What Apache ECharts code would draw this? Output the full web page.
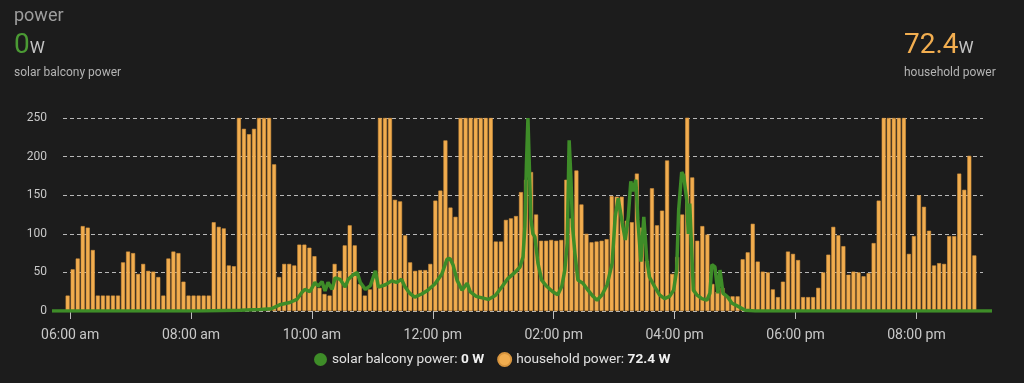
<!DOCTYPE html>
<html>
<head>
<meta charset="utf-8">
<script src="https://cdn.jsdelivr.net/npm/echarts@6/dist/echarts.min.js"></script>
<style>
  html, body { margin:0; padding:0; background:#1c1c1c; }
  #wrap { position:relative; width:1024px; height:383px; background:#1c1c1c; overflow:hidden; font-family:Roboto, sans-serif; }
  #chart { position:absolute; left:0; top:0; width:1024px; height:383px; }
  .hd { position:absolute; line-height:normal; white-space:nowrap; }
</style>
</head>
<body>
<div id="wrap">
  <div id="chart"></div>
  <div class="hd" style="left:14px;top:4px;font-size:18px;color:#9e9e9e;">power</div>
  <div class="hd" style="left:14px;top:27px;"><span style="font-size:28px;color:#4b9a34;">0</span><span style="font-size:17px;color:#c4c4c4;">W</span></div>
  <div class="hd" style="left:14px;top:65px;font-size:12px;color:#b4b4b4;">solar balcony power</div>
  <div class="hd" style="left:904px;top:27px;"><span style="font-size:28px;color:#f2ae50;">72.4</span><span style="font-size:17px;color:#c4c4c4;">W</span></div>
  <div class="hd" style="left:904px;top:65px;font-size:12px;color:#b4b4b4;">household power</div>
</div>
<script>
// ---- data ----
const axisStart = '05:42';
const axisEnd = '21:15';
const tickTimes = ['06:00', '08:00', '10:00', '12:00', '14:00', '16:00', '18:00', '20:00'];
const tickLabels = ['06:00 am', '08:00 am', '10:00 am', '12:00 pm', '02:00 pm', '04:00 pm', '06:00 pm', '08:00 pm'];
const yTicks = [0, 50, 100, 150, 200, 250];

const solarName = 'solar balcony power';
const solarCurrent = '0 W';
const householdName = 'household power';
const householdCurrent = '72.4 W';

// household power: 5-minute statistics, first interval starts at 05:55
const householdStart = '05:55';
const householdStepMin = 5;
const householdValues = [
  20,54,68,110,108,79,20,20,20,20,
  20,63,77,75,48,61,52,51,44,20,
  68,77,75,38,20,20,20,20,20,115,
  109,107,59,58,250,236,229,236,250,250,
  250,190,44,61,61,59,86,86,82,71,
  30,22,20,61,52,85,111,85,35,20,
  28,46,250,250,250,144,142,98,63,52,
  53,53,61,143,156,221,134,122,250,250,
  250,250,250,250,250,90,90,118,120,123,
  154,170,180,125,91,91,92,91,92,170,
  120,182,138,100,89,90,91,93,149,148,
  148,117,115,178,108,65,159,111,130,195,
  48,70,125,252,173,91,110,99,35,25,
  30,19,19,19,67,76,113,64,51,50,
  28,18,38,77,74,66,18,18,18,30,
  50,73,109,98,84,47,51,50,45,49,
  88,143,250,250,250,250,250,74,97,150,
  135,104,59,62,61,97,97,178,157,201,
  72
];

const solarTimes = ['05:42','08:09','08:49','09:08:30','09:20','09:28','09:38','09:45','09:50','09:53',
  '09:58','10:03','10:06','10:10','10:13','10:16','10:20','10:23','10:28','10:33',
  '10:36','10:41','10:45','10:48','10:53','10:58','11:03','11:06','11:13','11:19',
  '11:24','11:29','11:32','11:37','11:42','11:49','11:55','12:02','12:09','12:14',
  '12:17','12:20','12:24','12:29','12:34','12:37','12:43','12:49','12:55','13:02',
  '13:09','13:14:30','13:21:30','13:26:30','13:29:30','13:31:24','13:32:54','13:34:24','13:35:24','13:37:18',
  '13:39:18','13:41:18','13:44:18','13:48','13:53','13:59','14:04','14:08','14:11','14:13:24',
  '14:15:18','14:17','14:18:42','14:21','14:24','14:29','14:34','14:39','14:43','14:48',
  '14:53','14:58','15:01','15:04','15:08','15:11','15:14','15:16:30','15:18:30','15:21:30',
  '15:23:30','15:26:30','15:29:24','15:32:24','15:35','15:40','15:45','15:50','15:55','15:59',
  '16:02','16:04','16:07','16:09','16:12','16:13:36','16:15','16:17','16:18:36','16:22',
  '16:27','16:32','16:35','16:37','16:40','16:43','16:45','16:48','16:52','16:57',
  '17:03','17:10','17:20','21:15'];
const solarValues = [0,0,1,2,3,8,11,15,24,28,
  25,37,32,38,26,37,28,43,41,31,
  41,47,50,37,28,33,52,31,34,39,
  37,41,32,23,18,22,27,35,48,67,
  68,60,40,27,36,25,19,17,15,20,
  32,42,50,57,70,110,190,250,250,120,
  100,96,62,40,32,25,21,32,53,88,
  221,174,109,75,40,36,27,19,14,21,
  34,62,122,146,114,92,122,168,155,170,
  118,64,122,66,44,32,21,16,19,27,
  53,131,180,175,144,100,139,75,27,21,
  16,14,23,60,57,23,53,23,19,10,
  6,1,0,0];

// ---- helpers: time of day -> minutes since midnight ----
function tm(hms) {
  const p = hms.split(':').map(Number);
  return p[0] * 60 + p[1] + (p[2] || 0) / 60;
}
const hhStart = tm(householdStart);
const householdData = householdValues.map((v, i) => [hhStart + i * householdStepMin + householdStepMin / 2, v]);
const solarData = solarTimes.map((t, i) => [tm(t), solarValues[i]]);
const tickPos = tickTimes.map(tm);

const chart = echarts.init(document.getElementById('chart'), null, { renderer: 'canvas' });
const textColor = '#c8c8c8';
const yMin = yTicks[0], yMax = yTicks[yTicks.length - 1], yStep = yTicks[1] - yTicks[0];
chart.setOption({
  backgroundColor: 'transparent',
  animation: false,
  textStyle: { fontFamily: 'Roboto, sans-serif' },
  grid: [
    { left: 52, right: 32, top: 118, bottom: 72, containLabel: false },
    { left: 63, right: 41, top: 118, bottom: 72, containLabel: false }
  ],
  legend: {
    left: 314, top: 352, padding: 0,
    icon: 'circle', itemWidth: 13, itemHeight: 13, itemGap: 13,
    data: [solarName, householdName],
    formatter: function (name) {
      const cur = name === solarName ? solarCurrent : householdCurrent;
      return '{n|' + name + ': }{v|' + cur + '}';
    },
    textStyle: {
      color: '#e0e0e0', fontSize: 13.7,
      rich: {
        n: { color: '#e0e0e0', fontSize: 13.7, fontFamily: 'Roboto, sans-serif' },
        v: { color: '#f0f0f0', fontSize: 13.7, fontWeight: 'bold', fontFamily: 'Roboto, sans-serif' }
      }
    }
  },
  xAxis: [
    {
      type: 'value', gridIndex: 0,
      min: tm(axisStart), max: tm(axisEnd),
      axisLine: { show: false },
      splitLine: { show: false },
      axisTick: { show: true, length: 8, customValues: tickPos, lineStyle: { color: '#bdbdbd', width: 1 } },
      axisLabel: {
        customValues: tickPos,
        margin: 17, fontSize: 14, color: textColor, showMinLabel: true, showMaxLabel: true,
        formatter: function (val) {
          for (let i = 0; i < tickPos.length; i++) {
            if (Math.abs(tickPos[i] - val) < 0.01) return tickLabels[i];
          }
          return '';
        }
      }
    },
    {
      type: 'value', gridIndex: 1, min: 0, max: 1, show: false
    }
  ],
  yAxis: [
    {
      type: 'value', gridIndex: 0,
      min: yMin, max: yMax, interval: yStep,
      axisLine: { show: false },
      axisTick: { show: false },
      axisLabel: { fontSize: 12, color: textColor, margin: 5 },
      splitLine: { show: false }
    },
    {
      type: 'value', gridIndex: 1,
      min: yMin, max: yMax, interval: yStep,
      axisLine: { show: false },
      axisTick: { show: false },
      axisLabel: { show: false },
      splitLine: { show: true, lineStyle: { color: '#b8b8b8', width: 1, type: [4, 3] } }
    }
  ],
  series: [
    {
      name: householdName,
      type: 'bar',
      xAxisIndex: 0, yAxisIndex: 0,
      data: householdData,
      barWidth: 4,
      itemStyle: { color: '#f1ad4f', borderColor: '#d8953e', borderWidth: 0.6 },
      z: 2
    },
    {
      name: solarName,
      type: 'line',
      xAxisIndex: 0, yAxisIndex: 0,
      data: solarData,
      showSymbol: false,
      symbol: 'none',
      smooth: false,
      lineStyle: { color: '#3e8c28', width: 3.5 },
      itemStyle: { color: '#3e8c28' },
      z: 3
    }
  ]
});
</script>
</body>
</html>
